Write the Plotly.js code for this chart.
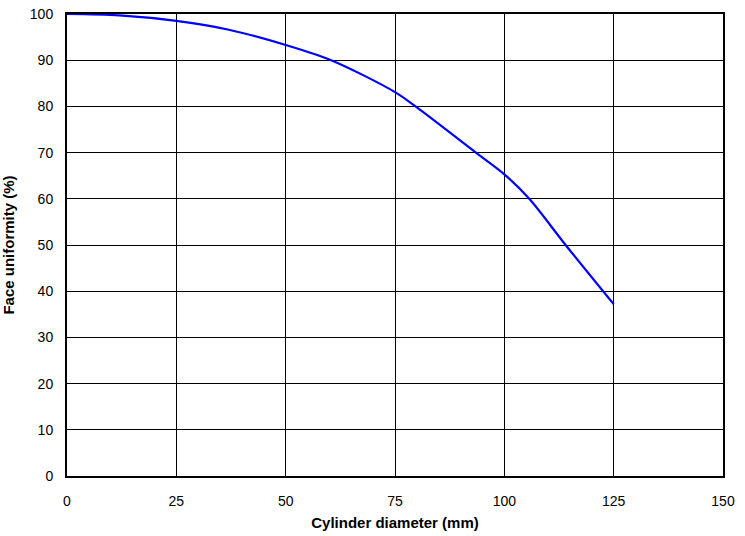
<!DOCTYPE html>
<html><head><meta charset="utf-8">
<script src="https://cdn.plot.ly/plotly-3.0.1.min.js"></script>
<style>html,body{margin:0;padding:0;background:#fff}#c{width:745px;height:536px}</style>
</head><body><div id="c"></div>
<script>
const diameter = [0, 12, 25, 37, 50, 60.4, 75, 79.7, 93.5, 100, 105.7, 114.1, 125];
const uniformity = [100, 99.7, 98.5, 96.6, 93.3, 90, 83.1, 80, 70, 65.3, 60, 49.9, 37.2];
const xTicks = [0, 25, 50, 75, 100, 125, 150];
const yTicks = [0, 10, 20, 30, 40, 50, 60, 70, 80, 90, 100];

const tickFont = {family: 'Liberation Sans, Arial, sans-serif', size: 14, color: '#000'};
const titleFont = {family: 'Liberation Sans, Arial, sans-serif', size: 15, color: '#000'};
Plotly.newPlot('c', [{
  x: diameter, y: uniformity, type: 'scatter', mode: 'lines',
  line: {color: '#0000ff', width: 2.2, shape: 'spline', smoothing: 0.9},
  hoverinfo: 'none'
}], {
  width: 745, height: 536,
  margin: {l: 67, r: 22, t: 14, b: 60},
  paper_bgcolor: '#fff', plot_bgcolor: '#fff',
  showlegend: false,
  font: tickFont,
  xaxis: {
    range: [0, 150], tickvals: xTicks, ticktext: xTicks.map(String),
    tickfont: tickFont,
    showgrid: true, gridcolor: '#000', gridwidth: 1,
    showline: true, linecolor: '#000', linewidth: 2, mirror: true,
    zeroline: false, ticks: '', ticklabelstandoff: 11,
    title: {text: '<b>Cylinder diameter (mm)</b>', font: titleFont, standoff: 10}
  },
  yaxis: {
    range: [0, 100], tickvals: yTicks, ticktext: yTicks.map(String),
    tickfont: tickFont,
    showgrid: true, gridcolor: '#000', gridwidth: 1,
    showline: true, linecolor: '#000', linewidth: 2, mirror: true,
    zeroline: false, ticks: '', ticklabelstandoff: 9,
    title: {text: '<b>Face uniformity (%)</b>', font: titleFont, standoff: 12}
  }
}, {staticPlot: true});
</script></body></html>
